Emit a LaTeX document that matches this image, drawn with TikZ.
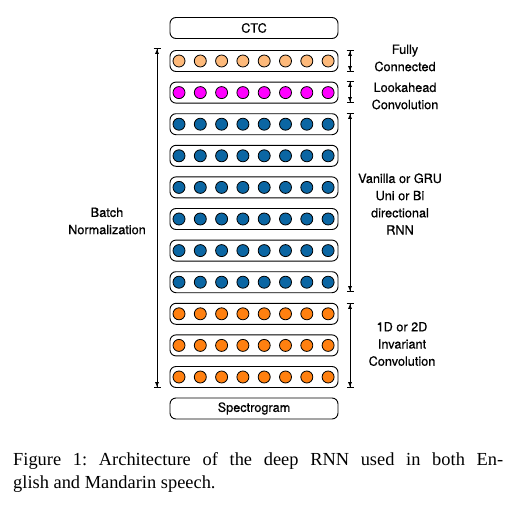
\documentclass[tikz,border=0pt]{standalone}
\usepackage{fontspec}
\setmainfont{Liberation Serif}
\newfontfamily\lblfont[FakeBold=0.6]{TeX Gyre Heros}
\usetikzlibrary{arrows.meta}
\definecolor{cpeach}{HTML}{FDB97A}
\definecolor{cmag}{HTML}{FF00FF}
\definecolor{cblue}{HTML}{0B66A3}
\definecolor{corange}{HTML}{FF8010}
\tikzset{
  layerbox/.style={draw, rounded corners=6pt, minimum width=168pt, minimum height=21pt, inner sep=0pt, line width=0.9pt},
  unit/.style={circle, draw, line width=0.8pt, minimum size=12pt, inner sep=0pt},
  lbl/.style={font=\lblfont\fontsize{12.7}{17.2}\selectfont, align=center},
  brk/.style={line width=0.8pt, {Bar[width=7pt]Latex[length=5pt,width=4pt]}-{Latex[length=5pt,width=4pt]Bar[width=7pt]}},
}
\begin{document}
\begin{tikzpicture}[x=1pt,y=-1pt]
\useasboundingbox (0,0) rectangle (521,516);
\node[layerbox, lbl] (ctc) at (254,28) {CTC};
\node[layerbox, lbl] (spec) at (254,408.5) {Spectrogram};
\foreach \i/\c in {1/cpeach,2/cmag,3/cblue,4/cblue,5/cblue,6/cblue,7/cblue,8/cblue,9/corange,10/corange,11/corange}{
  \pgfmathsetmacro{\yy}{61+(\i-1)*31.6}
  \node[layerbox] (row\i) at (254,\yy) {};
  \foreach \k in {0,...,7}{
    \node[unit, fill=\c] (u\i-\k) at (179+\k*21.3,\yy) {};
  }
}
% left bracket
\coordinate (lt) at (157,48);
\coordinate (lb) at (157,388);
\draw[brk] (lt) -- (lb);
\node[lbl] (bn) at (107,221) {Batch\\Normalization};
% right brackets
\coordinate (fa) at (350,50);  \coordinate (fb) at (350,72);
\coordinate (la) at (350,81);  \coordinate (lb2) at (350,103);
\coordinate (ra) at (350,113); \coordinate (rb) at (350,292);
\coordinate (ca) at (350,303); \coordinate (cb) at (350,388);
\draw[brk] (fa) -- (fb);
\draw[brk] (la) -- (lb2);
\draw[brk] (ra) -- (rb);
\draw[brk] (ca) -- (cb);
\node[lbl] (fc) at (405,58) {Fully\\Connected};
\node[lbl] (lk) at (405,96) {Lookahead\\Convolution};
\node[lbl] (rnn) at (400,204) {Vanilla or GRU\\Uni or Bi\\directional\\RNN};
\node[lbl] (cv) at (402,344) {1D or 2D\\Invariant\\Convolution};
\node[anchor=north west, inner sep=0pt] (cap) at (13,452)
  {\parbox[t]{490pt}{\fontsize{18.4}{23.5}\selectfont Figure 1:\ Architecture of the deep RNN used in both En-\linebreak glish and Mandarin speech.}};
\end{tikzpicture}
\end{document}
